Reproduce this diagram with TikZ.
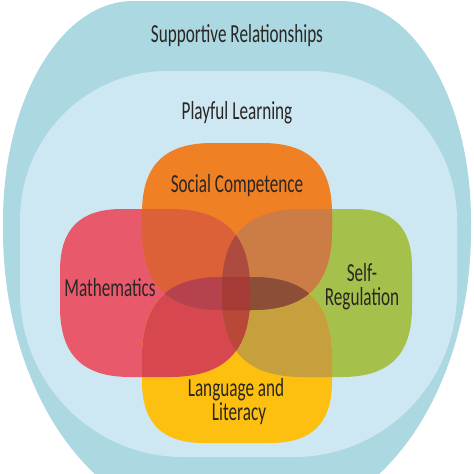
\documentclass[tikz,border=0pt]{standalone}
\usepackage{fontspec}
\newfontfamily\handfont[FakeStretch=0.66]{Carlito}
\definecolor{outerblue}{RGB}{172,216,226}
\definecolor{innerblue}{RGB}{205,232,242}
\definecolor{cR}{RGB}{232,90,107}
\definecolor{cO}{RGB}{240,128,36}
\definecolor{cG}{RGB}{165,193,75}
\definecolor{cY}{RGB}{253,192,16}
\definecolor{cOR}{RGB}{220,97,57}
\definecolor{cOG}{RGB}{204,125,69}
\definecolor{cRY}{RGB}{215,71,79}
\definecolor{cGY}{RGB}{197,160,60}
\definecolor{cRG}{RGB}{185,72,58}
\definecolor{cOY}{RGB}{175,70,70}
\definecolor{cRGO}{RGB}{172,75,62}
\definecolor{cRGY}{RGB}{186,72,56}
\definecolor{cROY}{RGB}{182,66,78}
\definecolor{cGOY}{RGB}{140,78,55}
\definecolor{cALL}{RGB}{165,58,55}
\definecolor{txt}{RGB}{42,38,36}
% x1 y1 x2 y2 rx-top ry-top rx-bottom ry-bottom k
\newcommand\bshape[9]{({#1+#5},#2) -- ({#3-#5},#2)
 .. controls ({#3-#5+#9*#5},#2) and (#3,{#2+#6-#9*#6}) .. (#3,{#2+#6})
 -- (#3,{#4-#8})
 .. controls (#3,{#4-#8+#9*#8}) and ({#3-#7+#9*#7},#4) .. ({#3-#7},#4)
 -- ({#1+#7},#4)
 .. controls ({#1+#7-#9*#7},#4) and (#1,{#4-#8+#9*#8}) .. (#1,{#4-#8})
 -- (#1,{#2+#6})
 .. controls (#1,{#2+#6-#9*#6}) and ({#1+#5-#9*#5},#2) .. ({#1+#5},#2)
 -- cycle}
% x1 y1 x2 y2 rTL rTR rBR rBL k
\newcommand\pshape[9]{({#1+#5},#2) -- ({#3-#6},#2)
 .. controls ({#3-#6+#9*#6},#2) and (#3,{#2+#6-#9*#6}) .. (#3,{#2+#6})
 -- (#3,{#4-#7})
 .. controls (#3,{#4-#7+#9*#7}) and ({#3-#7+#9*#7},#4) .. ({#3-#7},#4)
 -- ({#1+#8},#4)
 .. controls ({#1+#8-#9*#8},#4) and (#1,{#4-#8+#9*#8}) .. (#1,{#4-#8})
 -- (#1,{#2+#5})
 .. controls (#1,{#2+#5-#9*#5}) and ({#1+#5-#9*#5},#2) .. ({#1+#5},#2)
 -- cycle}
\newcommand\PO{\pshape{142}{143}{332}{310}{70}{70}{80}{80}{0.68}}
\newcommand\PR{\pshape{60}{209}{250}{377}{62}{80}{80}{70}{0.68}}
\newcommand\PG{\pshape{222}{209}{412}{377}{80}{58}{70}{80}{0.68}}
\newcommand\PY{\pshape{142}{277}{332}{443}{80}{80}{62}{62}{0.68}}
\tikzset{lbl/.style={text=txt,font=\handfont\fontsize{26}{30}\selectfont,inner sep=0pt,anchor=base}}
\begin{document}
\begin{tikzpicture}[x=1pt,y=-1pt]
\useasboundingbox (0,0) rectangle (474,474);
\begin{scope}
\clip (0,0) rectangle (474,474);
\fill[white] (0,0) rectangle (474,474);
\fill[outerblue] \bshape{3}{1}{471}{520}{130}{220}{200}{290}{0.5523};
\fill[innerblue] \bshape{20}{71}{457}{457}{147}{149}{163}{165}{0.5523};
% single petals
\fill[cR] \PR;
\fill[cG] \PG;
\fill[cO] \PO;
\fill[cY] \PY;
% pairs
\begin{scope}\clip \PO; \fill[cOR] \PR; \end{scope}
\begin{scope}\clip \PO; \fill[cOG] \PG; \end{scope}
\begin{scope}\clip \PY; \fill[cRY] \PR; \end{scope}
\begin{scope}\clip \PY; \fill[cGY] \PG; \end{scope}
\begin{scope}\clip \PR; \fill[cRG] \PG; \end{scope}
\begin{scope}\clip \PO; \fill[cOY] \PY; \end{scope}
% triples
\begin{scope}\clip \PR; \clip \PG; \fill[cRGO] \PO; \end{scope}
\begin{scope}\clip \PR; \clip \PG; \fill[cRGY] \PY; \end{scope}
\begin{scope}\clip \PR; \clip \PO; \fill[cROY] \PY; \end{scope}
\begin{scope}\clip \PG; \clip \PO; \fill[cGOY] \PY; \end{scope}
% all four
\begin{scope}\clip \PR; \clip \PG; \clip \PO; \fill[cALL] \PY; \end{scope}
\end{scope}
% labels
\node[lbl] (sr) at (237,42) {Supportive Relationships};
\node[lbl] (pl) at (237,119.5) {Playful Learning};
\node[lbl] (sc) at (237,192) {Social Competence};
\node[lbl] (ma) at (110,296.5) {Mathematics};
\node[lbl] (self) at (362,281.5) {Self-};
\node[lbl] (reg) at (362,305) {Regulation};
\node[lbl] (lang) at (236,396.5) {Language and};
\node[lbl] (lit) at (239,420) {Literacy};
\end{tikzpicture}
\end{document}
